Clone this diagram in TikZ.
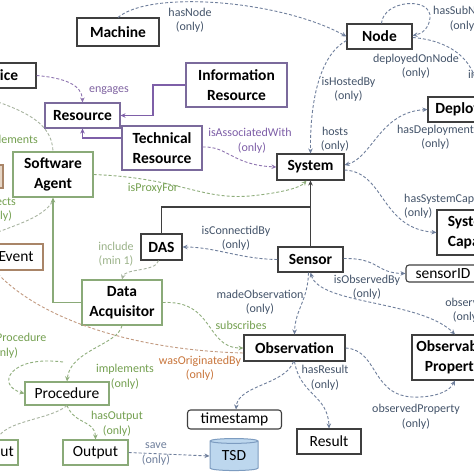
\documentclass[tikz,border=0pt]{standalone}
\usepackage{fontspec}
\setmainfont{Carlito}
\usetikzlibrary{arrows.meta,shapes.geometric,calc}
\definecolor{dk}{HTML}{3F3F3F}
\definecolor{pu}{HTML}{7B6A9C}
\definecolor{puL}{HTML}{8E74B0}
\definecolor{puS}{HTML}{7E5FA8}
\definecolor{puT}{HTML}{8064A2}
\definecolor{gr}{HTML}{8AAA78}
\definecolor{grL}{HTML}{8FAE7C}
\definecolor{grG}{HTML}{A8B4A0}
\definecolor{grT}{HTML}{74A050}
\definecolor{grT2}{HTML}{9CB38A}
\definecolor{bl}{HTML}{6F7F9C}
\definecolor{blT}{HTML}{44546A}
\definecolor{orL}{HTML}{C29A80}
\definecolor{orT}{HTML}{C9763C}
\definecolor{br}{HTML}{A98568}
\definecolor{brF}{HTML}{E6D6C6}
\definecolor{tsdF}{HTML}{BDD7EE}
\definecolor{tsdD}{HTML}{7D9CC0}
\tikzset{
  x=1pt, y=-1pt,
  box/.style={draw=dk, line width=1.1pt, inner sep=0pt, align=center, text=black,
    font=\fontsize{15.5}{19.5}\selectfont\bfseries},
  nbox/.style={box, font=\fontsize{15.5}{19}\selectfont},
  pbox/.style={box, draw=pu},
  gbox/.style={box, draw=gr},
  gnbox/.style={nbox, draw=gr},
  lab/.style={font=\fontsize{12}{14.5}\selectfont, align=center, inner sep=0pt, text=blT},
  dl/.style={dash pattern=on 3pt off 2pt, line width=0.9pt, draw=bl},
  dlp/.style={dl, draw=puL},
  dlg/.style={dl, draw=grL},
  dlg2/.style={dl, draw=grG},
  dlo/.style={dl, draw=orL},
  solp/.style={line width=1.1pt, draw=puS},
  solg/.style={line width=1.1pt, draw=gr},
  sold/.style={line width=1.1pt, draw=dk},
  ar/.style={-{Stealth[length=5pt,width=4.5pt]}},
  biar/.style={{Stealth[length=5pt,width=4.5pt]}-{Stealth[length=5pt,width=4.5pt]}},
}
\begin{document}
\begin{tikzpicture}
\useasboundingbox (0,0) rectangle (474,474);
\fill[white] (0,0) rectangle (474,474);
\clip (0,0) rectangle (474,474);

% ---------- nodes ----------
\node[box, minimum width=82pt, minimum height=28pt] (machine) at (118,32) {Machine};
\node[box, minimum width=65pt, minimum height=25pt] (node) at (379.5,36.5) {Node};
\node[box, minimum width=82pt, minimum height=25pt] (service) at (-5,75.5) {Service};
\node[pbox, minimum width=101pt, minimum height=44pt] (infores) at (236.5,85) {Information\\Resource};
\node[pbox, minimum width=75pt, minimum height=25pt] (resource) at (82.5,115.5) {Resource};
\node[pbox, minimum width=80pt, minimum height=44pt] (techres) at (162,148) {Technical\\Resource};
\node[box, minimum width=94pt, minimum height=25pt] (deploy) at (475,109.5) {Deployment};
\node[box, minimum width=67pt, minimum height=26pt] (system) at (310.5,167) {System};
\node[gbox, minimum width=80pt, minimum height=45pt] (agent) at (53,174.5) {Software\\Agent};
\node[draw=br, fill=brF, line width=1.1pt, minimum width=33pt, minimum height=23pt, inner sep=0pt] (evbox) at (-13.5,176.5) {};
\node[nbox, draw=br, minimum width=54pt, minimum height=26pt] (event) at (16,257) {Event};
\node[box, minimum width=41pt, minimum height=26pt] (das) at (161.5,247) {DAS};
\node[box, minimum width=65pt, minimum height=25pt] (sensor) at (310.5,259.5) {Sensor};
\node[nbox, rounded corners=3pt, minimum width=74pt, minimum height=17pt] (sensorid) at (443,273.5) {sensorID};
\node[box, align=left, minimum width=86pt, minimum height=45pt] (syscap) at (480,232.5) {System\\Capability};
\node[gbox, minimum width=80pt, minimum height=45pt] (daq) at (122,302.5) {Data\\Acquisitor};
\node[box, minimum width=101pt, minimum height=26pt] (obs) at (294.5,348) {Observation};
\node[box, minimum width=82pt, minimum height=45pt] (obsprop) at (453,357.5) {Observable\\Property};
\node[gnbox, minimum width=84pt, minimum height=23pt] (proc) at (67,393.5) {Procedure};
\node[nbox, rounded corners=3pt, minimum width=94pt, minimum height=19pt] (ts) at (234.5,419.5) {timestamp};
\node[nbox, minimum width=64pt, minimum height=25pt] (result) at (329,441.5) {Result};
\node[gnbox, minimum width=42pt, minimum height=25pt] (input) at (-3,452.5) {Input};
\node[gnbox, minimum width=65pt, minimum height=25pt] (output) at (95.5,452.5) {Output};
\node[cylinder, shape border rotate=90, aspect=0.2, draw=tsdD, fill=tsdF, line width=1pt,
  minimum width=48pt, minimum height=32pt, inner sep=0pt,
  font=\fontsize{15.5}{19}\selectfont] (tsd) at (234,456) {TSD};

% ---------- free ends ----------
\coordinate (offA) at (476,82);
\coordinate (offB) at (-2,102);
\coordinate (offC) at (-2,232);
\coordinate (offD) at (-2,274);
\coordinate (brk) at (63,362);
\coordinate (j) at (310.5,207);

% ---------- connectors ----------
\draw[dl, ar] (machine.north) .. controls (150,-10) and (280,0) .. (node.west);
\draw[dl, ar] ([xshift=2pt]node.north) .. controls (383,0) and (432,-4) .. (430,18) .. controls (429,28) and (422,34) .. ([yshift=1pt]node.east);
\draw[dl] (offA) .. controls (470,55) and (445,40) .. ([yshift=-1pt]node.east);
\draw[dl, ar] ([yshift=-4pt]node.west) .. controls (320,55) and (310,100) .. (system.north);
\draw[dl, biar] ([yshift=2pt]system.east) .. controls (372,158) and (380,112) .. (deploy.west);
\draw[dl, ar] ([yshift=-3pt]system.east) .. controls (385,172) and (380,228) .. (syscap.west);

\draw[dlp, ar] (service.east) .. controls (65,78) and (82,85) .. (resource.north);
\draw[solp, ar] (infores.west) -- (153,85) |- (resource.east);
\draw[solp, ar] (techres.west |- 0,138) -| (resource.south);
\draw[dlp, ar] ([yshift=1pt]techres.east) .. controls (228,146) and (232,165) .. (system.west);

\draw[dlg, ar] (agent.east) .. controls (180,178) and (200,200) .. (250,196) .. controls (280,193) and (300,188) .. ([xshift=-4pt]system.south);
\draw[sold] (das.north) |- (j);
\draw[sold, ar] (sensor.north) -- (system.south);
\draw[solg, ar] (daq.west) -| (agent.south);
\draw[dlg2] (offB) .. controls (35,115) and (52,128) .. (agent.north);
\draw[dlg2] (offC) .. controls (25,222) and (45,215) .. ([yshift=-3pt]agent.south);

\draw[dl, ar] (sensor.west) .. controls (240,259) and (215,247) .. (das.east);
\draw[dlg2, ar] ([xshift=-3pt]das.south) .. controls (156,272) and (125,268) .. (daq.north);
\draw[dlg, ar] (daq.east) .. controls (215,300) and (205,348) .. (obs.west);
\draw[dlo] (offD) .. controls (40,318) and (130,350) .. ([yshift=-5pt]obs.west);
\draw[dlg, ar] (daq.south) .. controls (118,345) and (70,350) .. (proc.north);
\draw[dlg, ar] (brk) .. controls (10,355) and (-5,385) .. (proc.west);
\draw[dlg, ar] (proc.south) .. controls (75,425) and (95,420) .. (output.north);
\draw[dlg2] (proc.south) .. controls (50,420) and (5,420) .. (input.north);
\draw[dl, ar] (output.east) -- (tsd.west);

\draw[dl, ar] ([xshift=-1pt]obs.south) .. controls (285,385) and (238,385) .. ([xshift=1.5pt]ts.north);
\draw[dl, ar] (obs.south) .. controls (300,395) and (328,395) .. (result.north);
\draw[dl, ar] (obs.east) .. controls (380,350) and (370,400) .. (420,397) .. controls (440,396) and (450,390) .. ([xshift=2pt]obsprop.south);
\draw[dl, biar] (sensor.south) .. controls (320,305) and (420,300) .. ([xshift=2pt]obsprop.north);
\draw[dl, ar] ([xshift=-2pt]sensor.south) .. controls (308,300) and (295,310) .. (obs.north);
\draw[dl, ar] ([yshift=1pt]sensor.east) .. controls (380,258) and (375,273) .. (sensorid.west);

% ---------- labels ----------
\node[lab] (l1) at (190,20.5) {hasNode\\(only)};
\node[lab, anchor=west, align=center] (l2) at (433,19) {hasSubNode\\(only)};
\node[lab] (l3) at (416,66.5) {deployedOnNode\\(only)};
\node[lab, anchor=west] (l4) at (468,75) {inDeployment};
\node[lab] (l5) at (348.5,89.5) {isHostedBy\\(only)};
\node[lab] (l6) at (335,139.5) {hosts\\(only)};
\node[lab] (l7) at (435.5,137.5) {hasDeployment\\(only)};
\node[lab, anchor=west, align=left] (l8) at (404,206.5) {hasSystemCapability\\(only)};
\node[lab, text=puT] (l9) at (109,91) {engages};
\node[lab, text=puS] (l10) at (250,141) {isAssociatedWith\\\hspace*{4pt}(only)};
\node[lab, text=grT] (l11) at (153,188) {isProxyFor};
\node[lab, text=grT, anchor=east] (l12) at (38,140) {implements};
\node[lab, text=grT] (l13) at (-2,209.5) {detects\\(only)};
\node[lab] (l14) at (236,238.5) {isConnectidBy\\(only)};
\node[lab, text=grT2] (l15) at (116,254) {include\\(min 1)};
\node[lab] (l16) at (367,287.5) {isObservedBy\\(only)};
\node[lab] (l17) at (260,302.5) {madeObservation\\(only)};
\node[lab, text=grT] (l18) at (241,325) {subscribes};
\node[lab] (l19) at (467,310.5) {observes\\(only)};
\node[lab, text=grT] (l20) at (4,346) {followsProcedure\\(only)};
\node[lab, text=orT] (l21) at (200,368.5) {wasOriginatedBy\\(only)};
\node[lab, text=grT] (l22) at (125,377) {implements\\(only)};
\node[lab] (l23) at (325,378) {hasResult\\(only)};
\node[lab, text=grT] (l24) at (117,424) {hasOutput\\(only)};
\node[lab] (l25) at (416,417) {observedProperty\\(only)};
\node[lab, text=bl] (l26) at (156,454) {save\\(only)};
\end{tikzpicture}
\end{document}
